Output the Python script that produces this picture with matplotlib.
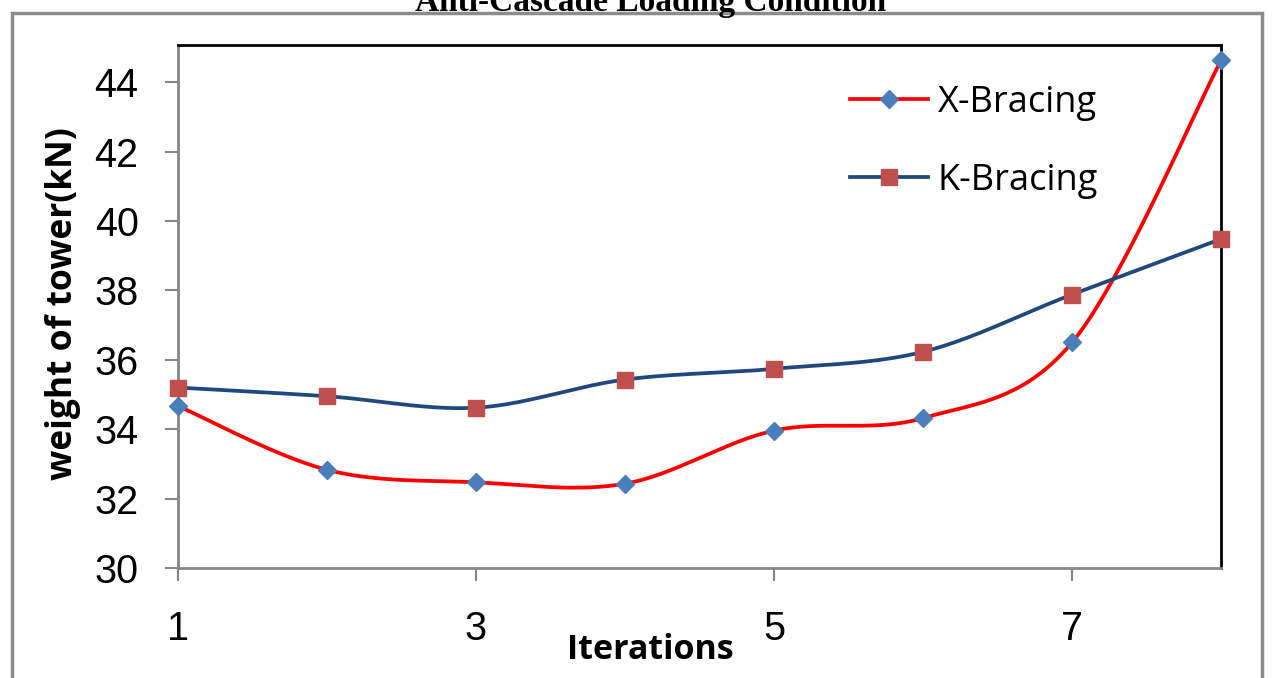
import numpy as np
import matplotlib
matplotlib.use("Agg")
import matplotlib.pyplot as plt
from matplotlib.patches import Rectangle

iterations = [1, 2, 3, 4, 5, 6, 7, 8]
x_bracing = [34.67, 32.83, 32.47, 32.43, 33.96, 34.32, 36.50, 44.63]
k_bracing = [35.20, 34.95, 34.62, 35.43, 35.74, 36.23, 37.88, 39.48]
yticks = [30, 32, 34, 36, 38, 40, 42, 44]
xticks = [1, 3, 5, 7]
title = "Anti-Cascade Loading Condition"


def smooth(xs, ys, n=40):
    """Catmull-Rom rendering of a smoothed line through the data points."""
    xs = np.asarray(xs, float)
    ys = np.asarray(ys, float)
    P = np.column_stack([xs, ys])
    P = np.vstack([P[0], P, P[-1]])
    out = []
    t = np.linspace(0, 1, n)[:, None]
    for i in range(1, len(P) - 2):
        p0, p1, p2, p3 = P[i - 1], P[i], P[i + 1], P[i + 2]
        seg = 0.5 * ((2 * p1) + (-p0 + p2) * t + (2 * p0 - 5 * p1 + 4 * p2 - p3) * t ** 2
                     + (-p0 + 3 * p1 - 3 * p2 + p3) * t ** 3)
        out.append(seg)
    s = np.vstack(out)
    return s[:, 0], s[:, 1]


fig = plt.figure(figsize=(12.73, 6.78), dpi=100)
ax = fig.add_axes([0.1398, 0.1622, 0.8194, 0.7714])

red = "#FF0000"
navy = "#1F497D"
dia = "#4A7EBB"
sq = "#C0504D"
lw = 2.7

sx, sy = smooth(iterations, x_bracing)
ax.plot(sx, sy, color=red, lw=lw, zorder=3, clip_on=False)
ax.plot(iterations, x_bracing, ls="none", marker="D", ms=9.5, color=dia, zorder=4, clip_on=False)
kx, ky = smooth(iterations, k_bracing)
ax.plot(kx, ky, color=navy, lw=lw, zorder=3, clip_on=False)
ax.plot(iterations, k_bracing, ls="none", marker="s", ms=11, color=sq, zorder=4, clip_on=False)

# legend proxies
h1, = ax.plot([], [], color=red, lw=lw, marker="D", ms=9.5, mfc=dia, mec=dia)
h2, = ax.plot([], [], color=navy, lw=lw, marker="s", ms=11, mfc=sq, mec=sq)
leg = ax.legend([h1, h2], ["X-Bracing", "K-Bracing"], loc="upper left",
                bbox_to_anchor=(0.644, 0.924), frameon=False, borderpad=0, borderaxespad=0,
                handlelength=2.16, handletextpad=0.27, labelspacing=1.16,
                prop={"family": "Open Sans", "size": 26})

ax.set_xlim(1, 8)
ax.set_ylim(30, 45.07)
ax.set_yticks(yticks)
ax.set_xticks(xticks)
ax.tick_params(axis="both", direction="out", length=9.4, width=1.5, color="#868686",
               labelsize=28.5)
for lab in ax.get_xticklabels() + ax.get_yticklabels():
    lab.set_family("Liberation Sans")
ax.tick_params(axis="x", pad=21)
ax.tick_params(axis="y", pad=19)

for side in ["left", "bottom"]:
    ax.spines[side].set_color("#868686")
    ax.spines[side].set_linewidth(2)
for side in ["top", "right"]:
    ax.spines[side].set_color("black")
    ax.spines[side].set_linewidth(2)

fig.text(0.0495, 0.552, "weight of tower(kN)", rotation=90, ha="center", va="center",
         fontsize=25.5, fontweight="bold", family="Open Sans")
fig.text(0.511, 0.041, "Iterations", ha="center", va="center",
         fontsize=24.5, fontweight="bold", family="Open Sans")

fig.text(0.511, 0.996, title, ha="center", va="center", fontsize=24,
         fontweight="bold", family="Liberation Serif")

border = Rectangle((12 / 1273, -0.05), (1262 - 12) / 1273, 1 - 13 / 678 + 0.05,
                   transform=fig.transFigure, fill=False, edgecolor="#8C8C8C", lw=2.5,
                   clip_on=False)
fig.patches.append(border)

fig.savefig("out.png", dpi=100)
